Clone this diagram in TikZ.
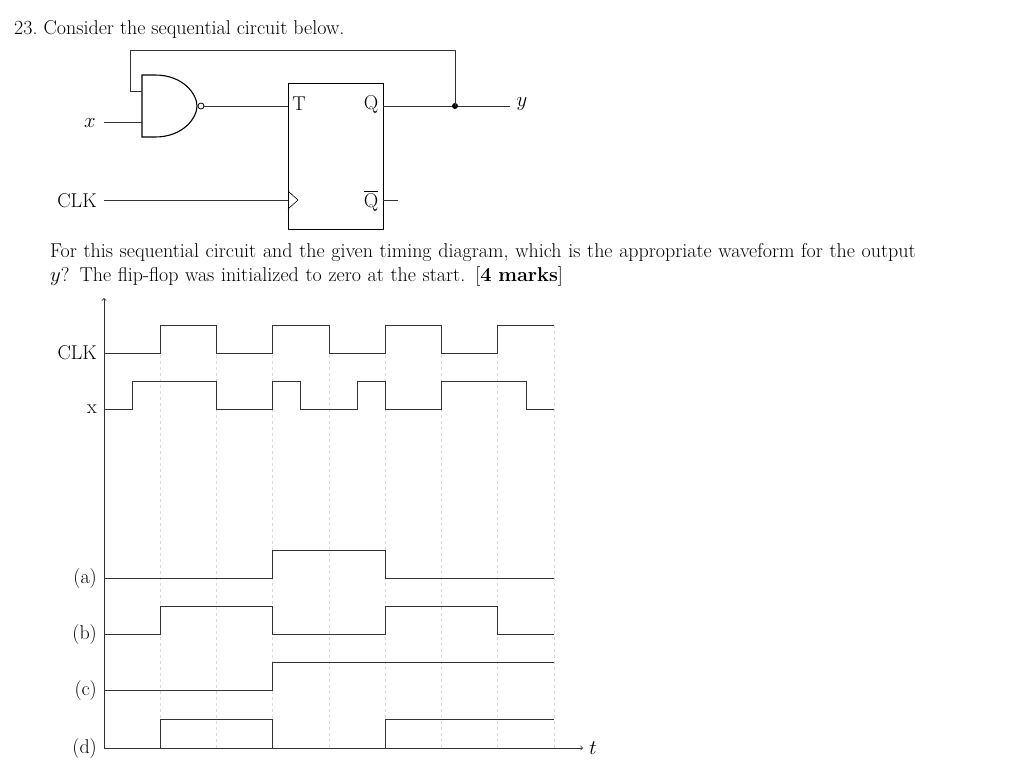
\documentclass[tikz,border=0pt]{standalone}
\begin{document}
\begin{tikzpicture}[x=1pt,y=-1pt,
  wire/.style={line width=0.8pt,black!80},
  wave/.style={line width=0.8pt,black!80},
  grid/.style={dashed,black!15,line width=0.6pt},
  txt/.style={font=\fontsize{20}{24}\selectfont,inner sep=0pt}]
\useasboundingbox (0,0) rectangle (1024,777);
% header
\node[txt,anchor=base west] (title) at (14,34) {23.\ Consider the sequential circuit below.};
% gate
\draw[line width=1.1pt] (142,75) -- (155,75) .. controls (183,75) and (197,94) .. (197,106) .. controls (197,118) and (183,137) .. (155,137) -- (142,137) -- cycle;
\node[draw,circle,line width=0.8pt,minimum size=6pt,inner sep=0pt] (bub) at (201,106) {};
\coordinate (gin1) at (142,91);
\coordinate (gin2) at (142,122);
% flip-flop
\node[draw,line width=1.1pt,minimum width=95pt,minimum height=146pt,anchor=north west,inner sep=0pt] (ff) at (288,83) {};
\node[txt,anchor=center] (T) at (299,104) {T};
\node[txt,anchor=center] (Q) at (371,104) {Q};
\node[txt,anchor=center] (Qb) at (371,201) {$\overline{\mbox{Q}}$};
\draw[line width=0.6pt] (288,191) -- (298,200) -- (288,209);
\coordinate (dot) at (455,106);
\coordinate (yend) at (510,106);
\draw[wire] (383,106) -- (yend);
\fill (dot) circle (3pt);
\node[txt] (x) at (90,123) {$x$};
\node[txt] (y) at (522,104) {$y$};
\node[txt] (clk) at (77,201) {CLK};
\draw[wire] (104,122) -- (gin2);
\draw[wire] (bub.east) -- (288,106);
\draw[wire] (dot) -- (455,50) -- (130,50) -- (130,91) -- (gin1);
\draw[wire] (104,200) -- (288,200);
\draw[wire] (383,200) -- (398,200);
% question text
\node[txt,anchor=base west,text width=960pt,align=left] (q) at (50,257) {For this sequential circuit and the given timing diagram, which is the appropriate waveform for the output\\ $y$? The flip-flop was initialized to zero at the start. [\textbf{4 marks}]};
% timing grid
\foreach \xx in {160,216,272,329,385,441,497,554} \draw[grid] (\xx,325) -- (\xx,748);
\coordinate (o) at (104,748);
\draw[wire,->] (o) -- (104,298);
\draw[wire,->] (o) -- (583,748);
\node[txt] (t) at (593,748) {$t$};
% CLK
\node[txt,anchor=east] (lclk) at (97,353) {CLK};
\draw[wave] (104,353) -- (160,353) -- (160,325) -- (216,325) -- (216,353) -- (272,353) -- (272,325) -- (329,325) -- (329,353) -- (385,353) -- (385,325) -- (441,325) -- (441,353) -- (497,353) -- (497,325) -- (554,325);
\node[txt,anchor=east] (lx) at (97,409) {x};
\draw[wave] (104,409) -- (132,409) -- (132,381) -- (216,381) -- (216,409) -- (272,409) -- (272,381) -- (300,381) -- (300,409) -- (357,409) -- (357,381) -- (385,381) -- (385,409) -- (441,409) -- (441,381) -- (526,381) -- (526,409) -- (554,409);
\node[txt,anchor=east] (la) at (97,578) {(a)};
\draw[wave] (104,578) -- (272,578) -- (272,550) -- (385,550) -- (385,578) -- (554,578);
\node[txt,anchor=east] (lb) at (97,634) {(b)};
\draw[wave] (104,634) -- (160,634) -- (160,606) -- (272,606) -- (272,634) -- (385,634) -- (385,606) -- (497,606) -- (497,634) -- (554,634);
\node[txt,anchor=east] (lc) at (97,690) {(c)};
\draw[wave] (104,690) -- (272,690) -- (272,662) -- (554,662);
\node[txt,anchor=east] (ld) at (97,748) {(d)};
\draw[wave] (160,748) -- (160,719) -- (272,719) -- (272,748);
\draw[wave] (385,748) -- (385,719) -- (554,719);
\end{tikzpicture}
\end{document}
